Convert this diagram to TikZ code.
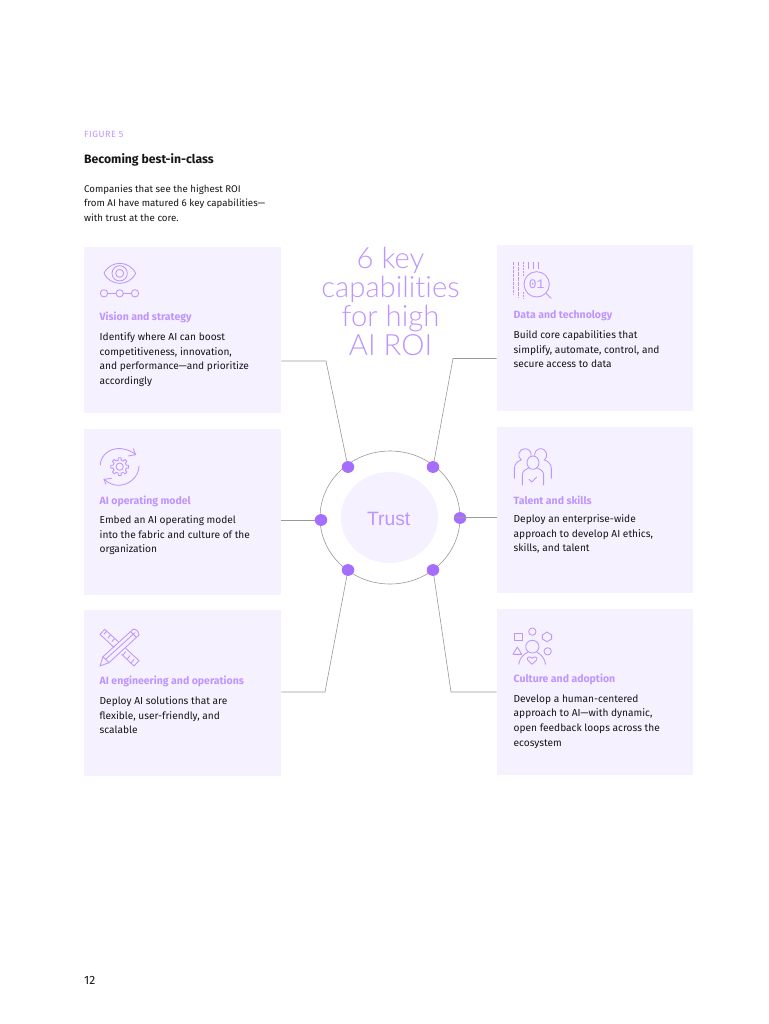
\documentclass[tikz,border=0pt]{standalone}
\usepackage{fontspec}
\setmainfont{Fira Sans}
\newfontfamily\titlef[Ligatures=NoCommon]{Lato Light}
\newfontfamily\trustf{Liberation Sans}
\newfontfamily\monof{Liberation Mono}
\newfontfamily\figf[LetterSpace=6]{Fira Sans}
\definecolor{pale}{HTML}{F5F1FF}
\definecolor{vio}{HTML}{A56EFF}
\definecolor{lil}{HTML}{BE95FF}
\definecolor{ink}{HTML}{161616}
\definecolor{wire}{HTML}{999999}
\usetikzlibrary{shapes.geometric,calc}
\tikzset{
 card/.style={fill=pale,draw=none,minimum width=197pt,minimum height=166pt,inner sep=0pt,anchor=north west},
 cardhead/.style={anchor=west,inner sep=0pt,text=lil,font=\fontsize{10.5}{12}\selectfont\bfseries},
 cardbody/.style={anchor=north west,inner sep=0pt,align=left,text=ink,font=\fontsize{10.15}{14.6}\selectfont},
 dotn/.style={ellipse,fill=vio,draw=none,minimum width=12.5pt,minimum height=11.8pt,inner sep=0pt},
 wireline/.style={draw=wire,line width=.6pt},
 icon/.style={draw=lil,line width=.85pt,line join=round,line cap=round},
}
\begin{document}
\begin{tikzpicture}[x=1pt,y=-1pt]
\useasboundingbox (0,0) rectangle (768,1024);
\fill[white] (0,0) rectangle (768,1024);
% header
\node[anchor=west,inner sep=0pt,text=lil,font=\fontsize{9}{10}\figf] (fig) at (84,134) {FIGURE 5};
\node[anchor=west,inner sep=0pt,text=ink,font=\fontsize{12.2}{14}\selectfont\bfseries] (head) at (84,159.5) {Becoming best-in-class};
\node[cardbody,font=\fontsize{9.7}{14.5}\selectfont] (intro) at (84,184.5) {Companies that see the highest ROI\\from AI have matured 6 key capabilities—\\with trust at the core.};
\node[anchor=west,inner sep=0pt,text=ink,font=\fontsize{12}{13}\selectfont] (page) at (84,980) {12};
% title
\node[inner sep=0pt,align=center,text=lil,font=\fontsize{29.3}{29}\titlef] (title) at (390.5,301) {6 key\\capabilities\\for high\\AI ROI};
% cards
\node[card] (c1) at (84,247) {};
\node[card] (c2) at (84,429) {};
\node[card] (c3) at (84,610) {};
\node[card,minimum width=196.5pt] (c4) at (496.5,245) {};
\node[card,minimum width=196.5pt] (c5) at (496.5,427) {};
\node[card,minimum width=196.5pt] (c6) at (496.5,609) {};
% card text
\node[cardhead] (h1) at (99.5,317.5) {Vision and strategy};
\node[cardbody] (b1) at (99.5,332.5) {Identify where AI can boost\\competitiveness, innovation,\\and performance—and prioritize\\accordingly};
\node[cardhead] (h2) at (99.5,501.5) {AI operating model};
\node[cardbody] (b2) at (99.5,515.5) {Embed an AI operating model\\into the fabric and culture of the\\organization};
\node[cardhead] (h3) at (99.5,681.5) {AI engineering and operations};
\node[cardbody] (b3) at (99.5,696.5) {Deploy AI solutions that are\\flexible, user-friendly, and\\scalable};
\node[cardhead] (h4) at (513.5,315.5) {Data and technology};
\node[cardbody] (b4) at (513.5,330.5) {Build core capabilities that\\simplify, automate, control, and\\secure access to data};
\node[cardhead] (h5) at (513.5,500.5) {Talent and skills};
\node[cardbody] (b5) at (513.5,514.5) {Deploy an enterprise-wide\\approach to develop AI ethics,\\skills, and talent};
\node[cardhead] (h6) at (513.5,679.5) {Culture and adoption};
\node[cardbody] (b6) at (513.5,694.5) {Develop a human-centered\\approach to AI—with dynamic,\\open feedback loops across the\\ecosystem};
% hub
\node[ellipse,draw=wire,line width=.6pt,minimum width=140pt,minimum height=133pt,inner sep=0pt] (ring) at (390,517.5) {};
\node[ellipse,fill=pale,minimum width=97pt,minimum height=91pt,inner sep=0pt] (trust) at (389.5,517.5) {};
\node[inner sep=0pt,text=lil,font=\fontsize{19.3}{21}\trustf] (trustlabel) at (388.7,518.5) {Trust};
\coordinate (k1) at (326,361);
\coordinate (k3) at (325,692);
\coordinate (k4) at (453,358.5);
\coordinate (k5) at (498,517);
\coordinate (k6) at (451,692);
\node[dotn] (d1) at (348,467) {};
\node[dotn] (d2) at (321,520) {};
\node[dotn] (d3) at (348,570) {};
\node[dotn] (d4) at (433,467) {};
\node[dotn] (d5) at (460,518) {};
\node[dotn] (d6) at (433,570) {};
\draw[wireline] (c1.east |- k1) -- (k1) -- (d1);
\draw[wireline] (c2.east |- d2) -- (d2);
\draw[wireline] (c3.east |- k3) -- (k3) -- (d3);
\draw[wireline] (c4.west |- k4) -- (k4) -- (d4);
\draw[wireline] (c5.west |- k5) -- (d5.west |- k5);
\draw[wireline] (c6.west |- k6) -- (k6) -- (d6);
% icon: eye
\begin{scope}[shift={(84,245)},x=.3333pt,y=-.3333pt]
\draw[icon] (60,85) .. controls (80,45) and (135,45) .. (155,85) .. controls (135,125) and (80,125) .. (60,85) -- cycle;
\draw[icon] (107,85) circle (23);
\draw[icon] (107,85) circle (12);
\draw[icon] (60,145) circle (11) (107,145) circle (11) (153,145) circle (11);
\draw[icon] (71,145) -- (96,145) (118,145) -- (142,145);
\end{scope}
% icon: gear and arrows
\begin{scope}[shift={(84,430)},x=.3333pt,y=-.3333pt]
\draw[icon] (49,105) .. controls (49,75) and (80,52) .. (112,56) .. controls (130,58) and (143,64) .. (155,74);
\draw[icon] (133,78) -- (155,74) -- (148,56);
\draw[icon] (165,108) .. controls (165,140) and (135,167) .. (100,166) .. controls (85,165) and (72,158) .. (60,148);
\draw[icon] (82,145) -- (60,148) -- (66,163);
\draw[icon] (107,110) circle (11);
\foreach \a in {0,45,...,315}{
  \draw[icon] ($(107,110)+(\a-13:20)$) -- ($(107,110)+(\a-9:27)$) -- ($(107,110)+(\a+9:27)$) -- ($(107,110)+(\a+13:20)$) -- ($(107,110)+(\a+32:20)$);
}
\end{scope}
% icon: ruler and pencil
\begin{scope}[shift={(84,610)},x=.3333pt,y=-.3333pt]
\draw[icon] (62,58) -- (48,73) -- (90,112) (113,133) -- (150,168) -- (165,152) -- (125,115) (103,95) -- (62,58);
\draw[icon] (68,64) -- (60,72) (80,74) -- (72,84) (92,85) -- (84,95) (125,125) -- (117,135) (138,137) -- (130,147) (150,148) -- (142,158);
\draw[icon] (48,168) -- (57,140) -- (147,58) .. controls (155,55) and (165,65) .. (165,75) -- (75,158) -- cycle;
\draw[icon] (57,140) -- (75,158) (140,65) -- (158,83) (65,148) -- (153,68);
\end{scope}
% icon: data
\begin{scope}[shift={(496,245)},x=.3333pt,y=-.3333pt]
\draw[icon,line width=1pt,dash pattern=on 3pt off 1pt,line cap=butt] (52,52) -- (52,150);
\draw[icon,line width=1pt,dash pattern=on 4pt off 1pt,line cap=butt] (67,52) -- (67,160);
\draw[icon,line width=1pt,dash pattern=on 2pt off 1pt,line cap=butt] (83,52) -- (83,95) (83,140) -- (83,160);
\draw[icon,line cap=butt] (98,52) -- (98,72) (113,52) -- (113,72) (128,52) -- (128,72);
\draw[icon] (122,118) circle (38);
\draw[icon] (150,145) -- (165,160);
\node[inner sep=0pt,text=lil,font=\fontsize{13}{14}\monof] (n01) at (122,118) {01};
\end{scope}
% icon: people
\begin{scope}[shift={(496,430)},x=.3333pt,y=-.3333pt]
\draw[icon] (55,145) -- (55,115) .. controls (55,100) and (68,92) .. (76,90) .. controls (62,80) and (68,56) .. (87,56) .. controls (100,56) and (108,68) .. (105,80);
\draw[icon] (166,145) -- (166,115) .. controls (166,100) and (153,92) .. (145,90) .. controls (158,80) and (153,56) .. (133,56) .. controls (122,56) and (114,68) .. (116,80);
\draw[icon] (111,98) ellipse (18 and 20);
\draw[icon] (79,165) -- (79,135) .. controls (79,122) and (90,118) .. (99,113);
\draw[icon] (143,165) -- (143,135) .. controls (143,122) and (132,118) .. (123,113);
\draw[icon] (99,148) -- (107,156) -- (122,141);
\end{scope}
% icon: culture
\begin{scope}[shift={(496,610)},x=.3333pt,y=-.3333pt]
\draw[icon] (54,69) rectangle (79,92);
\draw[icon] (109,65) circle (11);
\draw[icon] (139,75) -- (153,66) -- (167,75) -- (167,87) -- (153,95) -- (139,87) -- cycle;
\draw[icon] (51,133) -- (64,111) -- (77,133) -- cycle;
\draw[icon] (155,124) circle (11);
\draw[icon] (109,110) ellipse (20 and 19);
\draw[icon] (68,163) .. controls (72,143) and (82,133) .. (95,127);
\draw[icon] (149,163) .. controls (145,143) and (135,133) .. (123,127);
\draw[icon] (108,163) -- (95,150) .. controls (90,140) and (104,138) .. (108,145) .. controls (113,138) and (127,140) .. (122,150) -- cycle;
\end{scope}
\end{tikzpicture}
\end{document}
